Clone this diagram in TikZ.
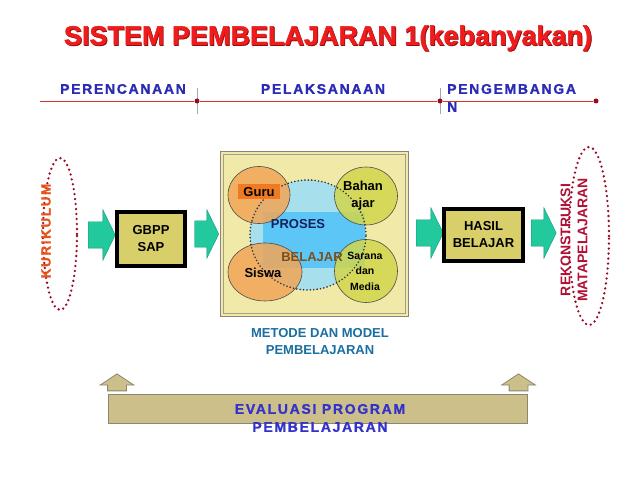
\documentclass[tikz,border=0pt]{standalone}
\usepackage{fontspec}
\setmainfont{Liberation Sans}
\newfontfamily\spacedfont[LetterSpace=12, FakeBold=1.2]{Liberation Sans}
\newfontfamily\heavyfont[FakeBold=1.5]{Liberation Sans}
\usetikzlibrary{shapes.arrows,shapes.geometric}
\definecolor{titlered}{HTML}{EE1C1C}
\definecolor{titleshade}{HTML}{8A0A0A}
\definecolor{lblue}{HTML}{2B2BB5}
\definecolor{evblue}{HTML}{3333CC}
\definecolor{linered}{HTML}{D83030}
\definecolor{dotred}{HTML}{9A0A25}
\definecolor{kurcol}{HTML}{E5541A}
\definecolor{rekcol}{HTML}{B01035}
\definecolor{arrgreen}{HTML}{22C99C}
\definecolor{arredge}{HTML}{13977A}
\definecolor{boxyellow}{HTML}{D9CF6A}
\definecolor{panel}{HTML}{F0E9A8}
\definecolor{cyanfill}{HTML}{A7E0EC}
\definecolor{bluefill}{HTML}{5CC6F6}
\definecolor{orangefill}{HTML}{F2A657}
\definecolor{gurufill}{HTML}{F07A22}
\definecolor{limefill}{HTML}{D2D64C}
\definecolor{navy}{HTML}{14205E}
\definecolor{brown}{HTML}{7A5020}
\definecolor{metcol}{HTML}{1A6EA0}
\definecolor{tanfill}{HTML}{CDBF8A}
\definecolor{tanedge}{HTML}{8C8670}
\tikzset{
  tl/.style={font=\spacedfont\bfseries\fontsize{14}{16}\selectfont, text=lblue, inner sep=0},
  tdot/.style={circle, fill=dotred, minimum size=5, inner sep=0},
  dotring/.style={draw=dotred, line width=2.6pt, dash pattern=on 0pt off 5pt, line cap=round, ellipse, inner sep=0},
  garrow/.style={single arrow, fill=arrgreen, draw=arredge, line width=0.4pt, inner xsep=0, inner ysep=13,
     minimum height=27, single arrow head extend=12, single arrow tip angle=128},
  ybox/.style={rectangle, fill=boxyellow, draw=black, line width=4pt, align=center,
     font=\bfseries\fontsize{13}{17}\selectfont, inner sep=0},
  ring/.style={ellipse, draw=black!70, line width=0.6pt, fill opacity=0.85, inner sep=0},
  itxt/.style={font=\bfseries\fontsize{13}{17}\selectfont, inner sep=0, align=center},
  uparrow/.style={single arrow, rotate=90, fill=tanfill, draw=tanedge, line width=0.8pt,
     inner xsep=0, inner ysep=9, minimum height=17, single arrow head extend=7.5, single arrow tip angle=113}
}
\begin{document}
\begin{tikzpicture}[x=1pt,y=-1pt]
\useasboundingbox[fill=white] (0,0) rectangle (638,478);
% title
\node[font=\heavyfont\bfseries\fontsize{27}{30}\selectfont, text=titleshade, inner sep=0] (titles) at (328.8,38.8) {SISTEM PEMBELAJARAN 1(kebanyakan)};
\node[font=\heavyfont\bfseries\fontsize{27}{30}\selectfont, text=titlered, inner sep=0] (title) at (328,38) {SISTEM PEMBELAJARAN 1(kebanyakan)};
% timeline
\draw[gray!70, line width=0.6pt] (197,88) -- (197,114);
\draw[gray!70, line width=0.6pt] (440,88) -- (440,114);
\coordinate (t0) at (40,101);
\node[tdot] (d1) at (197,101) {};
\node[tdot] (d2) at (440,101) {};
\node[tdot] (d3) at (596,101) {};
\draw[linered, line width=0.8pt] (t0) -- (d1) -- (d2) -- (d3);
\node[tl] (lp1) at (123,89) {PERENCANAAN};
\node[tl] (lp2) at (323,89) {PELAKSANAAN};
\node[tl, anchor=west] (lp3) at (447,89) {PENGEMBANGA};
\node[tl, anchor=west] (lp3b) at (447,107) {N};
% left
\node[dotring, minimum width=34, minimum height=152] (kur) at (60,234) {};
\node[rotate=90, text=kurcol, font=\spacedfont\bfseries\fontsize{13.5}{15}\selectfont, inner sep=0] (kurt) at (46,231) {KURIKULUM};
\node[garrow] (a1) at (98.5,235) {};
\node[ybox, minimum width=68, minimum height=54] (gbpp) at (151,239) {GBPP\\SAP};
\node[garrow, minimum height=24, single arrow head extend=11] (a2) at (203.5,234) {};
% center panel
\draw[tanedge, fill=panel, line width=0.8pt] (220,151) rectangle (408,316);
\draw[tanedge!80, line width=0.8pt] (223,154) rectangle (405,313);
\node[ellipse, fill=cyanfill, minimum width=116, minimum height=110, inner sep=0] (proc) at (308,235) {};
\node[rectangle, fill=bluefill, minimum width=102, minimum height=56, inner sep=0] (rect) at (314,240) {};
\node[ring, fill=orangefill, minimum width=62, minimum height=57] (guru) at (259,195) {};
\node[ring, fill=limefill, minimum width=63, minimum height=58] (bahan) at (366,196) {};
\node[ring, fill=orangefill, minimum width=74, minimum height=58] (siswa) at (265,272) {};
\node[ring, fill=limefill, minimum width=63, minimum height=63] (sarana) at (366,271) {};
\draw[black!80, line width=1.8pt, dash pattern=on 0pt off 3.4pt, line cap=round] (proc.center) ellipse [x radius=58pt, y radius=55pt];
\node[itxt, fill=gurufill, minimum width=42, minimum height=15] (gurut) at (259,192) {Guru};
\node[itxt, text=navy] (prost) at (298,224) {PROSES};
\node[itxt, text=brown] (belt) at (312,257) {BELAJAR};
\node[itxt] (baht) at (363,196) {Bahan\\ajar};
\node[itxt] (sist) at (263,273) {Siswa};
\node[itxt, font=\bfseries\fontsize{10.5}{15.5}\selectfont] (sart) at (365,271) {Sarana\\dan\\Media};
\node[font=\bfseries\fontsize{13}{17}\selectfont, text=metcol, align=center, inner sep=0] (met) at (320,342) {METODE DAN MODEL\\PEMBELAJARAN};
% right
\node[garrow] (a3) at (426.5,233) {};
\node[ybox, minimum width=79, minimum height=52] (hasil) at (483.5,235) {HASIL\\BELAJAR};
\node[garrow, minimum height=25] (a4) at (540.5,233) {};
\node[dotring, minimum width=40, minimum height=178] (rek) at (589,236) {};
\node[rotate=90, text=rekcol, font=\bfseries\fontsize{14}{17}\selectfont, inner sep=0, align=center] (rekt) at (574,240) {REKONSTRUKSI\\MATAPELAJARAN};
% bottom
\node[uparrow] (ual) at (117,385.5) {};
\node[uparrow] (uar) at (518.5,385.5) {};
\node[rectangle, fill=tanfill, draw=tanedge, line width=0.8pt, minimum width=419, minimum height=29, inner sep=0] (eval) at (317.5,408.5) {};
\node[font=\spacedfont\bfseries\fontsize{14}{18}\selectfont, text=evblue, align=center, inner sep=0] (evt) at (320,418) {EVALUASI PROGRAM\\PEMBELAJARAN};
\end{tikzpicture}
\end{document}
